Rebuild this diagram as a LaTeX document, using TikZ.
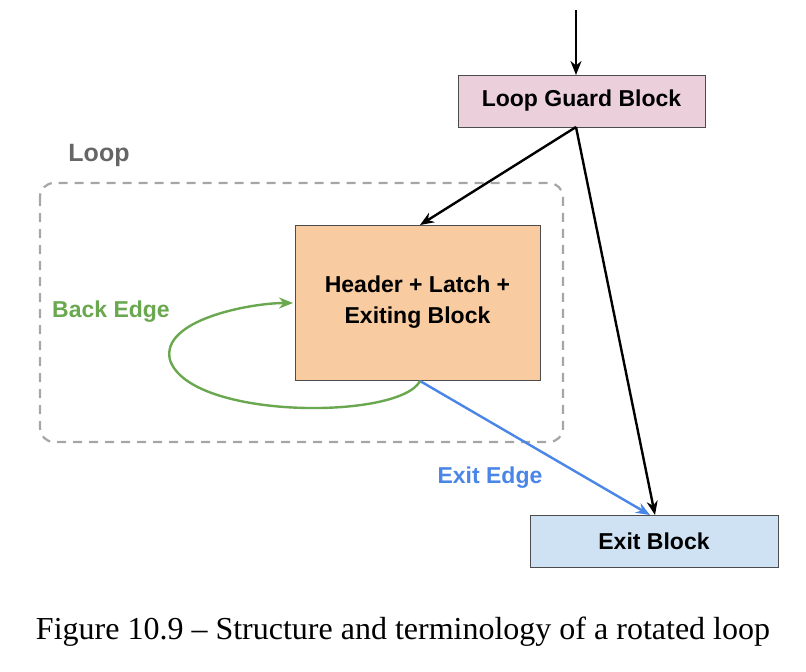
\documentclass[tikz,border=0pt]{standalone}
\usepackage{fontspec}
\setmainfont{Liberation Sans}
\newfontfamily\capfont{Liberation Serif}
\usetikzlibrary{arrows.meta}
\definecolor{guard}{HTML}{EBD0DC}
\definecolor{hdr}{HTML}{F8CBA0}
\definecolor{exitc}{HTML}{CFE2F3}
\definecolor{grn}{HTML}{6AA84F}
\definecolor{blu}{HTML}{4A86E8}
\begin{document}
\begin{tikzpicture}[x=1pt,y=-1pt,
  blk/.style={draw=black!70,line width=1pt,font=\fontsize{23}{27}\selectfont\bfseries,align=center,inner sep=0},
  arr/.style={-{Stealth[length=14pt,width=11pt]},line width=2.4pt}]
\useasboundingbox (0,0) rectangle (806,672);
\draw[gray!70,line width=2.2pt,dash pattern=on 9pt off 7pt,rounded corners=14pt] (40,183) rectangle (563,442);
\node[text=gray!80!black,font=\fontsize{25}{29}\selectfont\bfseries] (loop) at (99,155) {Loop};
\node[blk,fill=guard,minimum width=247pt,minimum height=52pt] (g) at (581.5,101) {Loop Guard Block};
\node[blk,fill=hdr,minimum width=245pt,minimum height=155pt] (h) at (417.5,302.5) {Header + Latch +\\[4pt]Exiting Block};
\node[blk,fill=exitc,minimum width=248pt,minimum height=52pt] (e) at (654,541) {Exit Block};
\coordinate (top) at (576,10);
\draw[arr] (top) -- (576,75);
\draw[arr] (576,127) -- (420,225);
\draw[arr] (576,127) -- (655,515);
\draw[arr,blu] (420,381) -- (650,515);
\draw[arr,grn] (420,381) .. controls (400,420) and (190,420) .. (170,360)
  .. controls (160,320) and (250,303) .. (293,303);
\node[text=grn,font=\fontsize{23}{27}\selectfont\bfseries] (be) at (111,312) {Back Edge};
\node[text=blu,font=\fontsize{23}{27}\selectfont\bfseries] (ee) at (490,478) {Exit Edge};
\node[font=\capfont\fontsize{32}{38}\selectfont] (cap) at (403,632) {Figure 10.9 – Structure and terminology of a rotated loop};
\end{tikzpicture}
\end{document}
